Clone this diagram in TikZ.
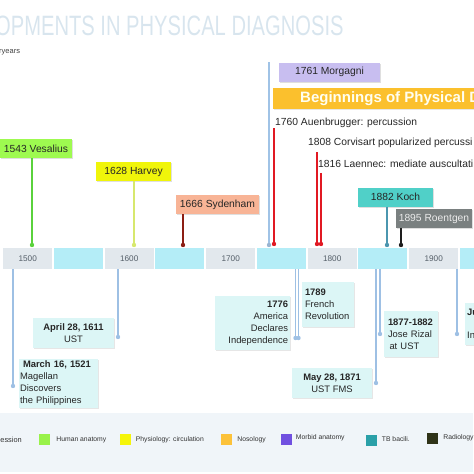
\documentclass[tikz,border=0pt]{standalone}
\usepackage{fontspec}
\setmainfont{Liberation Sans}
\usepackage{graphicx}
\usetikzlibrary{positioning,shadows}

\definecolor{titleBlue}{RGB}{216,229,238}
\definecolor{barGray}{RGB}{226,232,237}
\definecolor{barCyan}{RGB}{180,237,247}
\definecolor{yearGray}{RGB}{85,95,105}
\definecolor{noteCyan}{RGB}{220,246,246}
\definecolor{linkBlue}{RGB}{158,192,228}
\definecolor{legendBg}{RGB}{240,245,249}
\definecolor{vesBox}{RGB}{158,250,80}
\definecolor{vesStem}{RGB}{90,210,60}
\definecolor{harBox}{RGB}{240,245,10}
\definecolor{harStem}{RGB}{215,232,110}
\definecolor{sydBox}{RGB}{248,180,150}
\definecolor{sydStem}{RGB}{140,30,20}
\definecolor{morBox}{RGB}{200,190,240}
\definecolor{morStem}{RGB}{160,195,230}
\definecolor{bannerOrange}{RGB}{251,192,45}
\definecolor{redStem}{RGB}{225,25,35}
\definecolor{kochBox}{RGB}{80,208,200}
\definecolor{kochStem}{RGB}{75,150,175}
\definecolor{roeBox}{RGB}{122,128,128}
\definecolor{roeStem}{RGB}{30,30,30}
\definecolor{swHuman}{RGB}{153,242,74}
\definecolor{swPhysio}{RGB}{245,245,10}
\definecolor{swNoso}{RGB}{252,194,58}
\definecolor{swMorbid}{RGB}{112,80,224}
\definecolor{swTB}{RGB}{42,160,168}
\definecolor{swRadio}{RGB}{47,51,24}

\begin{document}
\begin{tikzpicture}[x=1pt, y=-1pt]
        % Style Definitions
        \tikzstyle{event} = [rectangle, inner sep=0pt, minimum height=19pt, text=black!85, font=\fontsize{10.3}{12}\selectfont, drop shadow={shadow xshift=0.6pt, shadow yshift=-1.2pt, opacity=0.25}]
        \tikzstyle{fact} = [inner sep=0pt, anchor=west, text=black!85, font=\fontsize{10.3}{12}\selectfont]
        \tikzstyle{stem} = [line width=1.4pt]
        \tikzstyle{dot} = [circle, inner sep=0pt, minimum size=4.4pt]
        \tikzstyle{seg} = [rectangle, inner sep=0pt, minimum width=49pt, minimum height=21pt, anchor=west, text=yearGray, font=\fontsize{8.2}{10}\selectfont]
        \tikzstyle{note} = [rectangle, fill=noteCyan, inner sep=0pt, text=black!85, font=\fontsize{9.4}{12}\selectfont, drop shadow={shadow xshift=0.5pt, shadow yshift=-1pt, opacity=0.2}]
        \tikzstyle{link} = [draw=linkBlue, line width=1.3pt]
        \tikzstyle{swatch} = [rectangle, inner sep=0pt, minimum size=11pt]
        \tikzstyle{legtext} = [inner sep=0pt, text=black!80, font=\fontsize{6.8}{8}\selectfont]

        \useasboundingbox (0,0) rectangle (474,474);
        \clip (0,0) rectangle (474,474);

        % Heading
        \node[anchor=base west, inner sep=0pt, text=titleBlue, font=\fontsize{28}{30}\selectfont] (title) at (-5,35) {\scalebox{0.72}[1]{OPMENTS IN PHYSICAL DIAGNOSIS}};
        \node[anchor=west, inner sep=0pt, text=black!75, font=\fontsize{7.5}{9}\selectfont] (span) at (-1,52.5) {ryears};

        % Timeline
        \foreach \i/\col/\yr in {0/barGray/1500, 1/barCyan/, 2/barGray/1600, 3/barCyan/, 4/barGray/1700, 5/barCyan/, 6/barGray/1800, 7/barCyan/, 8/barGray/1900, 9/barCyan/}
            \node[seg, fill=\col] (seg\i) at ({3+50.75*\i}, 258.5) {\yr};

        % Nodes above the line
        \node[event, fill=vesBox, minimum width=72pt] (vesalius) at (36,148.5) {1543 Vesalius};
        \node[event, fill=harBox, minimum width=75pt] (harvey) at (133.5,171.5) {1628 Harvey};
        \node[event, fill=sydBox, minimum width=83pt] (sydenham) at (217.5,204.5) {1666 Sydenham};
        \node[event, fill=morBox, minimum width=101pt] (morgagni) at (329.5,72) {1761 Morgagni};
        \node[event, fill=kochBox, minimum width=75pt] (koch) at (395.5,197) {1882 Koch};
        \node[event, fill=roeBox, minimum width=76pt, text=white!92!black] (roentgen) at (434,218.5) {1895 Roentgen};
        \node[anchor=west, fill=bannerOrange, minimum height=21pt, inner ysep=0pt, inner xsep=27pt, text=white!94!yellow, font=\fontsize{15}{17}\bfseries\selectfont, drop shadow={shadow xshift=0.6pt, shadow yshift=-1.2pt, opacity=0.2}] (banner) at (273,98.5) {Beginnings of Physical D};
        \node[fact] (auen) at (275,123) {1760 Auenbrugger: percussion};
        \node[fact] (corvisart) at (308,143) {1808 Corvisart popularized percussi};
        \node[fact] (laennec) at (318,164) {1816 Laennec: mediate auscultati};

        \node[dot, fill=vesStem] (d1543) at (32,245) {};
        \node[dot, fill=harStem] (d1628) at (134,245) {};
        \node[dot, fill=sydStem] (d1666) at (183,245) {};
        \node[dot, fill=morStem!80!gray] (d1761) at (269,245) {};
        \node[dot, fill=redStem] (d1760) at (274,244) {};
        \node[dot, fill=redStem] (d1808) at (317,244) {};
        \node[dot, fill=redStem] (d1816) at (321,244) {};
        \node[dot, fill=kochStem] (d1882) at (387,245) {};
        \node[dot, fill=roeStem] (d1895) at (401,245) {};

        % Nodes below the line
        \node[note, minimum width=81pt, minimum height=30pt, align=center] (ust1611) at (73.5,333) {\textbf{April 28, 1611}\\UST};
        \node[note, minimum width=79pt, minimum height=49pt, text width=77pt, align=left] (magellan) at (58.5,383.5) {\hspace*{3pt}\textbf{March 16, 1521}\\Magellan\\Discovers\\the Philippines};
        \node[note, minimum width=75pt, minimum height=54pt, text width=71pt, align=right] (usa) at (252.5,323) {\textbf{1776}\\America\\Declares\\Independence};
        \node[note, minimum width=52pt, minimum height=45pt, text width=46pt, align=left] (france) at (328,304.5) {\textbf{1789}\\French\\Revolution};
        \node[note, minimum width=54pt, minimum height=46pt, text width=46pt, align=left] (rizal) at (411,334) {\textbf{1877-1882}\\Jose Rizal\\\hspace*{1.5pt}at UST};
        \node[note, minimum width=80pt, minimum height=30pt, align=center] (fms) at (332,383) {\textbf{May 28, 1871}\\UST FMS};
        \node[note, anchor=north west, minimum width=40pt, minimum height=42pt, text width=36pt, align=left] (june) at (465,303) {\textbf{Ju}\\[11pt]In};

        \node[dot, fill=linkBlue] (m1521) at (13,386) {};
        \node[dot, fill=linkBlue] (m1611) at (118,337) {};
        \node[dot, fill=linkBlue] (m1776) at (295.5,338) {};
        \node[dot, fill=linkBlue] (m1789) at (298.5,338) {};
        \node[dot, fill=linkBlue] (m1871) at (376,383) {};
        \node[dot, fill=linkBlue] (m1877) at (380,334) {};
        \node[dot, fill=linkBlue] (m1898) at (457,334) {};

        % Arrows
        \draw[stem, vesStem] (vesalius.south -| d1543) -- (d1543);
        \draw[stem, harStem] (harvey.south -| d1628) -- (d1628);
        \draw[stem, sydStem] (sydenham.south -| d1666) -- (d1666);
        \draw[stem, morStem] (morgagni.north west -| d1761) -- (d1761);
        \draw[stem, redStem, line width=2pt] (auen.south -| d1760) -- (d1760);
        \draw[stem, redStem, line width=2pt] ([yshift=-4pt]corvisart.south -| d1808) -- (d1808);
        \draw[stem, redStem, line width=2pt] ([yshift=-5pt]laennec.south -| d1816) -- (d1816);
        \draw[stem, kochStem] (koch.south -| d1882) -- (d1882);
        \draw[stem, roeStem] (roentgen.south -| d1895) -- (d1895);

        \draw[link] (seg0.south -| m1521) -- (m1521);
        \draw[link] (seg2.south -| m1611) -- (m1611);
        \draw[link] (seg5.south -| m1776) -- (m1776);
        \draw[link] (seg5.south -| m1789) -- (m1789);
        \draw[link] (seg7.south -| m1871) -- (m1871);
        \draw[link] (seg7.south -| m1877) -- (m1877);
        \draw[link] (seg8.south -| m1898) -- (m1898);

        % Legend
        \fill[legendBg] (0,413) rectangle (473,472);
        \node[legtext, anchor=east, font=\fontsize{7.4}{9}\selectfont] (lgPerc) at (22,439.5) {ession};
        \node[swatch, fill=swHuman] (swHumanBox) at (44.5,439.5) {};
        \node[legtext, right=6pt of swHumanBox] (lgHuman) {Human anatomy};
        \node[swatch, fill=swPhysio] (swPhysioBox) at (125,439.5) {};
        \node[legtext, right=5pt of swPhysioBox] (lgPhysio) {Physiology: circulation};
        \node[swatch, fill=swNoso] (swNosoBox) at (226.5,439.5) {};
        \node[legtext, right=5pt of swNosoBox] (lgNoso) {Nosology};
        \node[swatch, fill=swMorbid] (swMorbidBox) at (286,439) {};
        \node[legtext, right=4pt of swMorbidBox, yshift=1.5pt] (lgMorbid) {Morbid anatomy};
        \node[swatch, fill=swTB] (swTBBox) at (371.5,440.5) {};
        \node[legtext, right=4.5pt of swTBBox, yshift=1.5pt] (lgTB) {TB bacili.};
        \node[swatch, fill=swRadio] (swRadioBox) at (432.5,438) {};
        \node[legtext, right=5pt of swRadioBox] (lgRadio) {Radiology};

    \end{tikzpicture}
\end{document}
